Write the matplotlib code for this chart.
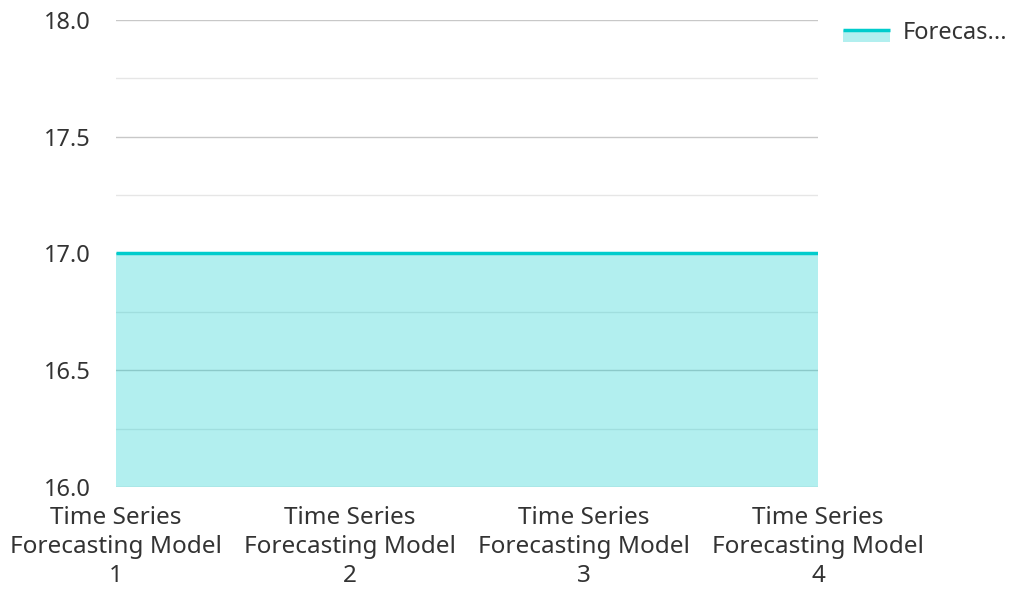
import matplotlib.pyplot as plt
import numpy as np
from matplotlib.patches import Rectangle
from matplotlib.lines import Line2D
from matplotlib.legend_handler import HandlerBase

plt.rcParams['font.family'] = ['Noto Sans', 'DejaVu Sans']

categories = ['Time Series\nForecasting Model\n1', 'Time Series\nForecasting Model\n2',
              'Time Series\nForecasting Model\n3', 'Time Series\nForecasting Model\n4']
values = [17, 17, 17, 17]
series_name = 'Forecas...'

line_col = '#00cccc'


class AreaHandler(HandlerBase):
    # line at the middle, filled block hanging under it
    def create_artists(self, legend, orig_handle, xdescent, ydescent, width, height, fontsize, trans):
        mid = -ydescent + height / 2
        r = Rectangle((-xdescent, mid - 0.5 * fontsize), width, 0.5 * fontsize,
                      facecolor=line_col, alpha=0.3, edgecolor='none', transform=trans)
        l = Line2D([-xdescent, -xdescent + width], [mid, mid], color=line_col, lw=2.5,
                   solid_capstyle='butt', transform=trans)
        return [r, l]


fig = plt.figure(figsize=(10.13, 5.9), dpi=100)
ax = fig.add_axes([0.1145, 0.1746, 0.693, 0.7915])

x = np.arange(len(categories))
ax.fill_between(x, 16, values, color=line_col, alpha=0.3, linewidth=0, zorder=2)
ax.plot(x, values, color=line_col, lw=2.5, zorder=3, solid_capstyle='butt')

ax.set_xlim(0, len(categories) - 1)
ax.set_ylim(16, 18)
ax.set_yticks([16, 16.5, 17, 17.5, 18])
ax.set_yticklabels(['16.0', '16.5', '17.0', '17.5', '18.0'])
ax.set_yticks([16.25, 16.75, 17.25, 17.75], minor=True)
ax.grid(axis='y', which='major', color='#c8c8c8', lw=1, zorder=1)
ax.grid(axis='y', which='minor', color='#e6e6e6', lw=1, zorder=1)
ax.set_axisbelow(True)
ax.set_xticks(x)
ax.set_xticklabels(categories, linespacing=1.27)

for s in ax.spines.values():
    s.set_visible(False)
ax.tick_params(axis='both', which='both', length=0, labelsize=17.5, colors='#333333')
ax.tick_params(axis='y', labelsize=17, pad=18)
ax.tick_params(axis='x', pad=14)

h = Line2D([], [], color=line_col)
fig.legend([h], [series_name], loc='upper left', bbox_to_anchor=(0.8205, 0.985),
           frameon=False, fontsize=17, handlelength=2.0, handletextpad=0.55,
           borderpad=0, labelcolor='#333333', handler_map={Line2D: AreaHandler()})

fig.savefig('out.png', dpi=100)
